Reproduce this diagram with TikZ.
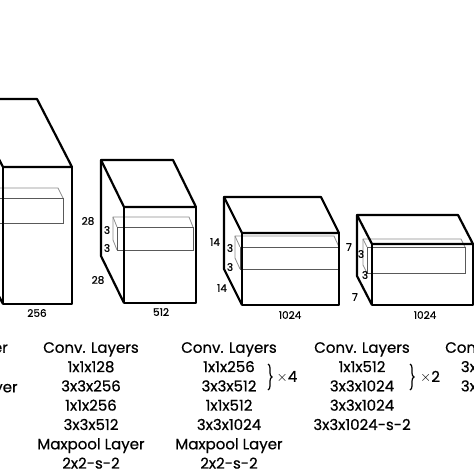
\documentclass[tikz,border=0pt]{standalone}
\usepackage{fontspec}
\setmainfont{Poppins}[FakeBold=0.6]
\usepackage{tikz}
\usetikzlibrary{decorations.pathreplacing}

\newcommand{\layercube}[6]{%
  \draw[box] (#1,#2) -- ++(#3,0) -- ++(#5,#6) -- ++(-#3,0) -- cycle;
  \draw[box] (#1,#2) ++(#5,#6) rectangle ++(#3,#4);
  \draw[box] (#1,#2) -- ++(0,#4) -- ++(#5,#6);
}
\newcommand{\kernelbox}[6]{%
  \draw[kern] (#1,#2) ++(0,#4) -- ++(0,-#4) -- ++(#3,0) -- ++(#5,#6);
  \draw[kern] (#1,#2) -- ++(#5,#6);
  \draw[kern] (#1,#2) ++(0,#4) -- ++(#5,#6);
  \draw[kernfront] (#1,#2) ++(#5,#6) rectangle ++(#3,#4);
}

\begin{document}
\begin{tikzpicture}[x=1pt,y=-1pt,
  box/.style={line width=2.2pt,line join=round},
  kern/.style={black!45,line width=0.8pt},
  kernfront/.style={black!65,line width=0.9pt},
  dim/.style={font=\fontsize{10.5}{12}\selectfont,inner sep=0pt},
  layertext/.style={font=\fontsize{15}{19.3}\selectfont,align=center,anchor=north,inner sep=0pt},
  bracetip/.style={decorate,decoration={brace,amplitude=4pt},line width=1.2pt}]
\useasboundingbox (0,0) rectangle (474,474);
\clip (0,0) rectangle (474,474);

\kernelbox{-12}{188}{70}{25}{5}{10}
\kernelbox{113}{217}{76}{23}{4}{10}
\kernelbox{235}{236}{99}{22}{5}{11}
\kernelbox{363}{239}{98}{26}{4}{8}

\layercube{-32}{99}{69}{137}{35}{68}
\layercube{101}{160}{72}{96}{23}{47}
\layercube{224}{197}{97}{72}{18}{36}
\layercube{357}{215}{101}{61}{15}{29}

\node[dim] (d256) at (37,313) {256};
\node[dim] (h28) at (88,221) {28};
\node[dim] (k3a) at (107,230) {3};
\node[dim] (k3b) at (107,248) {3};
\node[dim] (w28) at (98,280) {28};
\node[dim] (d512) at (161,312) {512};
\node[dim] (h14) at (215,242) {14};
\node[dim] (k3c) at (230,248) {3};
\node[dim] (k3d) at (230,267) {3};
\node[dim] (w14) at (222,288) {14};
\node[dim] (d1024a) at (290,315) {1024};
\node[dim] (h7) at (349,247) {7};
\node[dim] (k3e) at (361,254) {3};
\node[dim] (k3f) at (365,275) {3};
\node[dim] (w7) at (355,297) {7};
\node[dim] (d1024b) at (425,315) {1024};

\node[layertext] (conva) at (-36,342) {Conv. Layer};
\node[layertext] (poola) at (-36,381) {Maxpool Layer};
\node[layertext] (convb) at (91,342) {Conv. Layers\\1x1x128\\3x3x256\\1x1x256\\3x3x512\\Maxpool Layer\\2x2-s-2};
\node[layertext] (convc) at (229,342) {Conv. Layers\\1x1x256\\3x3x512\\1x1x512\\3x3x1024\\Maxpool Layer\\2x2-s-2};
\node[layertext] (convd) at (362,342) {Conv. Layers\\1x1x512\\3x3x1024\\3x3x1024\\3x3x1024-s-2};
\node[layertext] (conve) at (493,342) {Conv. Layers\\3x3x1024\\3x3x1024};

\coordinate (bc1) at (268,364);
\coordinate (bc2) at (268,390);
\draw[bracetip] (bc1) -- (bc2);
\node[layertext,anchor=center] (rep4) at (287,377) {$\times$4};
\coordinate (bd1) at (410,364);
\coordinate (bd2) at (410,390);
\draw[bracetip] (bd1) -- (bd2);
\node[layertext,anchor=center] (rep2) at (430,377) {$\times$2};
\end{tikzpicture}
\end{document}
